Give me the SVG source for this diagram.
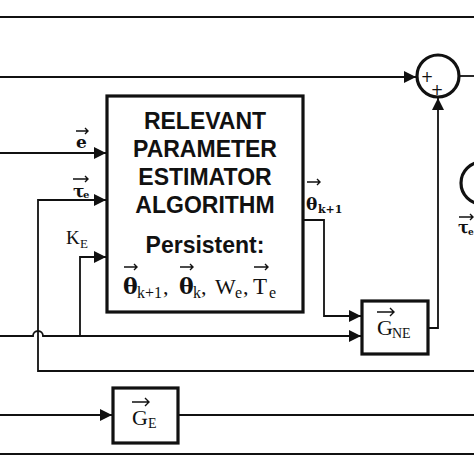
<svg xmlns="http://www.w3.org/2000/svg" width="474" height="474" viewBox="0 0 474 474">
<style>
.ln{fill:none;stroke:#111;stroke-width:1.8}
.bx{fill:#fff;stroke:#111;stroke-width:3.2}
.big{font-family:"Liberation Sans",Arial,sans-serif;font-weight:bold;font-size:23px;fill:#111;text-anchor:middle}
.m{font-family:"Liberation Serif","Times New Roman",serif;fill:#111}
.mb{font-family:"DejaVu Serif","Liberation Serif",serif;font-weight:bold;fill:#111}
.vec{fill:none;stroke:#111;stroke-width:1.4}
</style>
<defs>
<marker id="ah" markerWidth="12" markerHeight="12" refX="12" refY="6" orient="auto" markerUnits="userSpaceOnUse"><path d="M0,0 L12,6 L0,12 z" fill="#111"/></marker>
</defs>
<rect width="474" height="474" fill="#fff"/>
<g id="connectors">
<path class="ln" d="M0,17 H474"/>
<path class="ln" d="M0,454 H474"/>
<path class="ln" d="M0,77 H416" marker-end="url(#ah)"/>
<path class="ln" d="M460,76 H474"/>
<path class="ln" d="M0,153 H106" marker-end="url(#ah)"/>
<path class="ln" d="M474,371 H38 V200 H106" marker-end="url(#ah)"/>
<path class="ln" d="M0,336 H33 A5,5 0 0 1 43,336 H361" marker-end="url(#ah)"/>
<path class="ln" d="M80,336 V257 H106" marker-end="url(#ah)"/>
<path class="ln" d="M303,220 H324 V316 H361" marker-end="url(#ah)"/>
<path class="ln" d="M428,328 H438 V98" marker-end="url(#ah)"/>
<path class="ln" d="M0,415 H112" marker-end="url(#ah)"/>
<path class="ln" d="M178,415 H474"/>
</g>
<g id="labels">
<path class="vec" d="M76,131 H88 M85,128 L88,131 L85,134"/>
<text class="mb" x="76" y="148" font-size="17">e</text>
<path class="vec" d="M73,179 H88 M85,176 L88,179 L85,182"/>
<text class="mb" x="73" y="197" font-size="17">τ</text>
<text class="mb" x="83" y="198" font-size="10">e</text>
<text class="m" x="66" y="244" font-size="19" fill="#333">K</text>
<text class="m" x="80" y="248" font-size="13" fill="#333">E</text>
<path class="vec" d="M307,182 H320 M317,179 L320,182 L317,185"/>
<text class="mb" x="306" y="210" font-size="17">θ</text>
<text class="mb" x="318" y="213" font-size="11">k+1</text>
<path class="vec" d="M459,217 H473 M470,214 L473,217 L470,220"/>
<text class="mb" x="458" y="233" font-size="16">τ</text>
<text class="mb" x="468" y="235" font-size="9">e</text>
</g>
<g id="estimator">
<rect class="bx" x="107" y="96" width="196" height="216"/>
<text class="big" x="205" y="129">RELEVANT</text>
<text class="big" x="205" y="157">PARAMETER</text>
<text class="big" x="205" y="185">ESTIMATOR</text>
<text class="big" x="205" y="213">ALGORITHM</text>
<text class="big" x="205" y="253">Persistent:</text>
<path class="vec" d="M124,267 H137 M134,264 L137,267 L134,270"/>
<text class="mb" x="123" y="294" font-size="22">θ</text>
<text class="m" x="137" y="298" font-size="16">k+1</text>
<text class="m" x="163" y="294" font-size="22">,</text>
<path class="vec" d="M180,267 H193 M190,264 L193,267 L190,270"/>
<text class="mb" x="179" y="294" font-size="22">θ</text>
<text class="m" x="193" y="298" font-size="16">k</text>
<text class="m" x="201" y="294" font-size="22">,</text>
<text class="m" x="215" y="294" font-size="22" fill="#444">W</text>
<text class="m" x="235" y="298" font-size="16">e</text>
<text class="m" x="243" y="294" font-size="22">,</text>
<path class="vec" d="M254,267 H268 M265,264 L268,267 L265,270"/>
<text class="m" x="253" y="294" font-size="23">T</text>
<text class="m" x="269" y="298" font-size="16">e</text>
</g>
<g id="sum">
<circle cx="438" cy="76" r="21" fill="#fff" stroke="#111" stroke-width="3.2"/>
<text x="427" y="82" font-family="DejaVu Sans,sans-serif" font-size="15" text-anchor="middle" fill="#111">+</text>
<text x="437" y="95" font-family="DejaVu Sans,sans-serif" font-size="15" text-anchor="middle" fill="#111">+</text>
</g>
<g id="circle2">
<circle cx="482" cy="183" r="21" fill="#fff" stroke="#111" stroke-width="3.2"/>
</g>
<g id="gne">
<rect class="bx" x="362" y="301" width="66" height="53"/>
<path class="vec" d="M377,312 H394 M390,308 L394,312 L390,316"/>
<text class="m" x="377" y="335" font-size="22">G</text>
<text class="m" x="392" y="338" font-size="14">NE</text>
</g>
<g id="ge">
<rect class="bx" x="113" y="388" width="65" height="55"/>
<path class="vec" d="M132,402 H149 M145,398 L149,402 L145,406"/>
<text class="m" x="132" y="425" font-size="22">G</text>
<text class="m" x="148" y="428" font-size="14">E</text>
</g>
</svg>
